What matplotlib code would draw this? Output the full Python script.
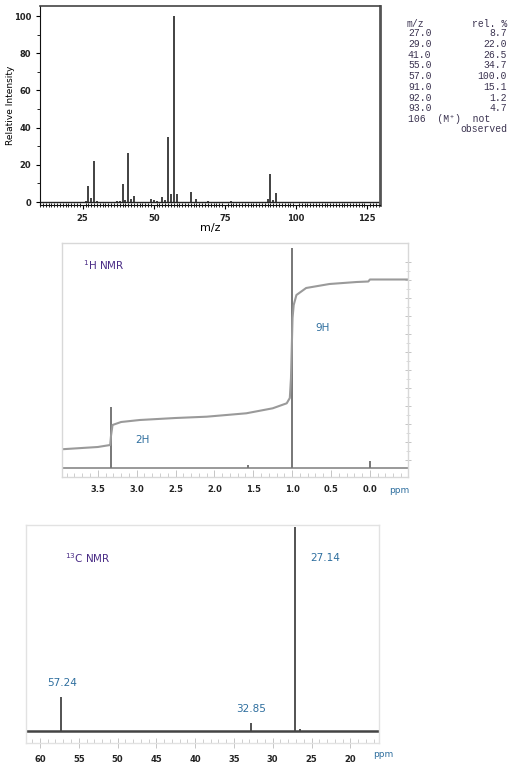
import matplotlib
matplotlib.use("Agg")
import matplotlib.pyplot as plt
from matplotlib.ticker import MultipleLocator, FixedLocator

# --- mass spectrum ---
ms_mz = [26, 27, 28, 29, 30, 37, 38, 39, 40, 41, 42, 43, 49, 50, 51, 53, 54,
         55, 56, 57, 58, 63, 65, 69, 77, 90, 91, 92, 93]
ms_int = [0.5, 8.7, 2.0, 22.0, 0.5, 0.5, 0.8, 9.5, 1.0, 26.5, 1.8, 3.5, 1.5, 1.2, 0.6,
          2.5, 1.0, 34.7, 4.5, 100.0, 4.5, 5.3, 1.5, 0.5, 0.3, 1.8, 15.1, 1.2, 4.7]

table_mz = ["27.0", "29.0", "41.0", "55.0", "57.0", "91.0", "92.0", "93.0"]
table_rel = ["8.7", "22.0", "26.5", "34.7", "100.0", "15.1", "1.2", "4.7"]

# --- 1H NMR ---
h_peak_ppm = [3.33, 1.57, 1.00, 0.00]
h_peak_height = [61, 3, 220, 7]
h_int_ppm = [3.97, 3.5, 3.34, 3.33, 3.31, 3.2, 2.96, 2.5, 2.1, 1.59, 1.25, 1.07,
             1.03, 1.015, 1.005, 0.995, 0.98, 0.945, 0.82, 0.52, 0.17, 0.02, 0.0, -0.49]
h_int_val = [18.7, 21, 23, 32, 43, 46, 48, 50, 51.3, 54.7, 59.7, 64.7,
             70, 90, 120, 150, 163, 173, 180, 184, 186, 186.5, 188.5, 188.5]
h_labels = ["2H", "9H"]
h_label_ppm = [3.02, 0.70]
h_label_y = [28, 140]

# --- 13C NMR ---
c_peak_ppm = [57.24, 32.85, 27.14, 26.5]
c_peak_height = [34, 8, 204, 2]
c_label_ppm = [59.1, 34.7, 25.2]
c_label_y = [48, 22, 173]

fig = plt.figure(figsize=(5.1, 7.65), dpi=100)
W, H = 510, 765

def place(l, t, r, b):
    return [l / W, 1 - b / H, (r - l) / W, (b - t) / H]

blue = "#2f6f9f"
purple = "#4a2c86"
mono = ["Liberation Mono", "DejaVu Sans Mono"]

# ---------------- MS panel ----------------
ax1 = fig.add_axes(place(40, 6, 380, 205))
ax1.vlines(ms_mz, 0, ms_int, color="#333", lw=1.3)
ax1.axhline(0, color="#222", lw=1)
ax1.set_xlim(10, 129.5)
ax1.set_ylim(-1.6, 105.4)
ax1.xaxis.set_major_locator(MultipleLocator(25))
ax1.xaxis.set_minor_locator(MultipleLocator(1))
ax1.yaxis.set_major_locator(MultipleLocator(20))
ax1.yaxis.set_minor_locator(MultipleLocator(10))
ax1.tick_params(axis="both", which="major", direction="out", length=3, width=0.8, labelsize=6)
ax1.tick_params(axis="x", which="minor", direction="inout", length=2.5, width=0.6)
ax1.tick_params(axis="y", which="minor", direction="out", length=2, width=0.6)
for lab in ax1.get_xticklabels() + ax1.get_yticklabels():
    lab.set_fontweight("bold")
    lab.set_color("#222")
ax1.spines["left"].set_color("#111")
ax1.spines["bottom"].set_color("#111")
ax1.spines["top"].set_color("#444")
ax1.spines["top"].set_linewidth(1.2)
ax1.spines["right"].set_color("#555")
ax1.spines["right"].set_linewidth(2)
ax1.set_ylabel("Relative Intensity", fontsize=6.5)
ax1.yaxis.set_label_coords(-0.074, 0.5)
ax1.set_xlabel("m/z", fontsize=8, labelpad=0)

# table
fig.text(407 / W, 1 - 24 / H, "m/z", family=mono, fontsize=7, color="#3b3350",
         va="center", ha="left")
fig.text(507 / W, 1 - 24 / H, "rel. %", family=mono, fontsize=7, color="#3b3350",
         va="center", ha="right")
row_y = [33.5, 44.3, 55, 65.5, 76.3, 87.2, 97.8, 108.4]
for mz, rel, y in zip(table_mz, table_rel, row_y):
    fig.text(408 / W, 1 - y / H, mz, family=mono, fontsize=7, color="#3b3350",
             va="center", ha="left")
    fig.text(507 / W, 1 - y / H, rel, family=mono, fontsize=7, color="#3b3350",
             va="center", ha="right")
fig.text(408 / W, 1 - 119 / H, "106  (M\u207a)  not", family=mono, fontsize=7,
         color="#3b3350", va="center", ha="left")
fig.text(507 / W, 1 - 129.5 / H, "observed", family=mono, fontsize=7, color="#3b3350",
         va="center", ha="right")

# ---------------- 1H NMR panel ----------------
ax2 = fig.add_axes(place(62, 243, 408, 477))
ax2.axhline(0, color="#888", lw=1.2)
ax2.vlines(h_peak_ppm, 0, h_peak_height, color="#777", lw=1.4)
ax2.plot(h_int_ppm, h_int_val, color="#9a9a9a", lw=1.5)
ax2.set_xlim(3.96, -0.49)
ax2.set_ylim(-9, 225)
ax2.xaxis.set_major_locator(MultipleLocator(0.5))
ax2.xaxis.set_minor_locator(MultipleLocator(0.1))
ax2.yaxis.set_major_locator(FixedLocator(list(range(8, 207, 18))))
ax2.yaxis.set_minor_locator(FixedLocator(list(range(17, 207, 18))))
ax2.yaxis.tick_right()
ax2.tick_params(axis="y", which="major", direction="inout", length=5, width=0.6,
                color="#bbb", labelright=False)
ax2.tick_params(axis="y", which="minor", direction="inout", length=3, width=0.5, color="#ccc")
ax2.tick_params(axis="x", which="major", direction="in", length=5, width=0.6, color="#bbb",
                labelsize=6, pad=6)
ax2.tick_params(axis="x", which="minor", direction="in", length=3, width=0.5, color="#bbb")
for lab in ax2.get_xticklabels():
    lab.set_fontweight("bold")
    lab.set_color("#222")
for s in ax2.spines.values():
    s.set_color("#d8d8d8")
    s.set_linewidth(1)
ax2.text(3.69, 203, "$^1$H NMR", fontsize=7.5, color=purple, va="center", ha="left")
for t, x, y in zip(h_labels, h_label_ppm, h_label_y):
    ax2.text(x, y, t, fontsize=7.5, color=blue, va="center", ha="left")
ax2.text(0.945, -0.056, "ppm", transform=ax2.transAxes, fontsize=6.5, color=blue,
         va="center", ha="left")

# ---------------- 13C NMR panel ----------------
ax3 = fig.add_axes(place(26, 525, 379, 743))
ax3.axhline(0, color="#444", lw=1.8)
ax3.vlines(c_peak_ppm, 0, c_peak_height, color="#444", lw=1.3)
ax3.set_xlim(61.8, 16.3)
ax3.set_ylim(-12, 206)
ax3.xaxis.set_major_locator(MultipleLocator(5))
ax3.xaxis.set_minor_locator(MultipleLocator(1))
ax3.set_yticks([])
ax3.tick_params(axis="x", which="major", direction="inout", length=7, width=0.6, color="#bbb",
                labelsize=6, pad=5)
ax3.tick_params(axis="x", which="minor", direction="in", length=3, width=0.5, color="#bbb")
for lab in ax3.get_xticklabels():
    lab.set_fontweight("bold")
    lab.set_color("#222")
for s in ax3.spines.values():
    s.set_color("#e2e2e2")
    s.set_linewidth(1)
ax3.text(56.8, 173, "$^{13}$C NMR", fontsize=7.5, color=purple, va="center", ha="left")
for ppm, x, y in zip(c_peak_ppm[:3], c_label_ppm, c_label_y):
    ax3.text(x, y, f"{ppm:.2f}", fontsize=7.5, color=blue, va="center", ha="left")
ax3.text(0.983, -0.055, "ppm", transform=ax3.transAxes, fontsize=6.5, color=blue,
         va="center", ha="left")

fig.savefig("out.png", dpi=100)
